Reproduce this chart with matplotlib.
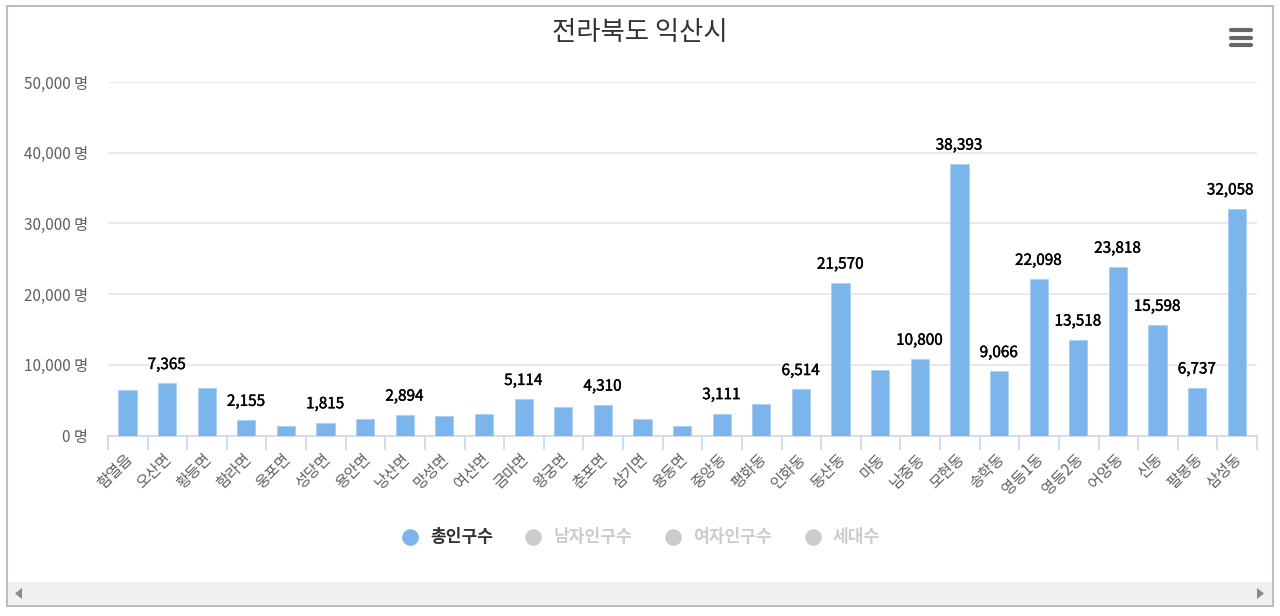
import matplotlib
matplotlib.use("Agg")
import matplotlib.pyplot as plt
import matplotlib.patheffects as pe
from matplotlib.lines import Line2D
from matplotlib.patches import Rectangle, Polygon
import numpy as np

plt.rcParams['font.family'] = ['Noto Sans CJK KR', 'DejaVu Sans']

categories = ['함열읍','오산면','황등면','함라면','웅포면','성당면','용안면','낭산면','망성면','여산면',
              '금마면','왕궁면','춘포면','삼기면','용동면','중앙동','평화동','인화동','동산동','마동',
              '남중동','모현동','송학동','영등1동','영등2동','어양동','신동','팔봉동','삼성동']
population = [6500,7365,6700,2155,1300,1815,2400,2894,2800,3000,
              5114,4000,4310,2400,1300,3111,4400,6514,21570,9300,
              10800,38393,9066,22098,13518,23818,15598,6737,32058]
labelled = ['오산면','함라면','성당면','낭산면','금마면','춘포면','중앙동','인화동','동산동','남중동',
            '모현동','송학동','영등1동','영등2동','어양동','신동','팔봉동','삼성동']
y_ticks = [0,10000,20000,30000,40000,50000]
title = '전라북도 익산시'
legend_names = ['총인구수','남자인구수','여자인구수','세대수']

W, H = 1280, 616
fx = lambda x: x / W
fy = lambda y: 1 - y / H

fig = plt.figure(figsize=(12.8, 6.16), dpi=100, facecolor='white')

# frame and scrollbar (behind the axes)
fig.add_artist(Rectangle((fx(7), fy(606)), 1266/W, 600/H, transform=fig.transFigure,
                         fc='white', ec='#bdbdbd', lw=1.5, zorder=-3))
fig.add_artist(Rectangle((fx(8), fy(605)), 1264/W, 23/H, transform=fig.transFigure,
                         fc='#f0f0f0', ec='none', zorder=-2))
fig.add_artist(Polygon([(fx(15), fy(593.5)), (fx(22), fy(588)), (fx(22), fy(599))],
                       transform=fig.transFigure, fc='#8a8a8a', ec='none', zorder=-1))
fig.add_artist(Polygon([(fx(1264), fy(593.5)), (fx(1257), fy(588)), (fx(1257), fy(599))],
                       transform=fig.transFigure, fc='#8a8a8a', ec='none', zorder=-1))

ax = fig.add_axes([fx(108), fy(435.5), (1257-108)/W, (435.5-82)/H], facecolor='none')
x = np.arange(len(categories))
ax.bar(x - 0.01, population, width=0.46, color='#7cb5ec', edgecolor='#a9d0f5', linewidth=0.6, zorder=3)
ax.set_xlim(-0.5, len(categories)-0.5)
ax.set_ylim(0, 50000)
ax.set_yticks(y_ticks)
ax.set_yticklabels([f'{v:,} 명' for v in y_ticks], fontsize=11, color='#606060')
ax.tick_params(axis='y', length=0, pad=14.5)
ax.grid(axis='y', color='#e6e6e6', lw=1.2, zorder=1)
ax.set_axisbelow(True)
for s in ['top','left','right']:
    ax.spines[s].set_visible(False)
ax.spines['bottom'].set_color('#ccd6eb')
ax.spines['bottom'].set_linewidth(1.2)
ax.set_xticks(np.arange(len(categories)+1) - 0.5, minor=False)
ax.set_xticklabels([])
ax.tick_params(axis='x', length=10, color='#ccd6eb', width=1.2)

# category labels, rotated
for xi, name in zip(x, categories):
    ax.annotate(name, (xi, 0), xytext=(1.5, -15), textcoords='offset points', rotation=45,
                rotation_mode='anchor', ha='right', va='center', fontsize=11, color='#606060')

# data labels (the last one is kept inside the plot area)
for xi, name, v in zip(x, categories, population):
    if name in labelled:
        dx = -5 if name == categories[-1] else -0.5
        ax.annotate(f'{v:,}', (xi, v), xytext=(dx, 7.5), textcoords='offset points', ha='center',
                    va='bottom', fontsize=11, color='black', zorder=5,
                    path_effects=[pe.Stroke(linewidth=2, foreground='white'), pe.Normal(),
                                  pe.Stroke(linewidth=0.3, foreground='black')])

fig.text(0.5, fy(33), title, ha='center', va='center', fontsize=19, color='#333333')

# menu icon
for yy in (30, 37.5, 45):
    fig.add_artist(Line2D([fx(1231), fx(1251)], [fy(yy), fy(yy)], transform=fig.transFigure,
                          color='#666666', lw=3, solid_capstyle='round'))

# legend
marker_x = [410, 533, 673, 813]
text_x = [430, 554, 693, 833]
colors = ['#7cb5ec', '#cccccc', '#cccccc', '#cccccc']
tcolors = ['#333333', '#cccccc', '#cccccc', '#cccccc']
for mx, tx, n, c, tc in zip(marker_x, text_x, legend_names, colors, tcolors):
    fig.add_artist(Line2D([fx(mx)], [fy(537)], transform=fig.transFigure, marker='o', ms=12,
                          color=c, ls='none', mew=0))
    fig.text(fx(tx), fy(537), n, ha='left', va='center', fontsize=12.3, color=tc, fontweight='bold')

fig.savefig('out.png', dpi=100)
